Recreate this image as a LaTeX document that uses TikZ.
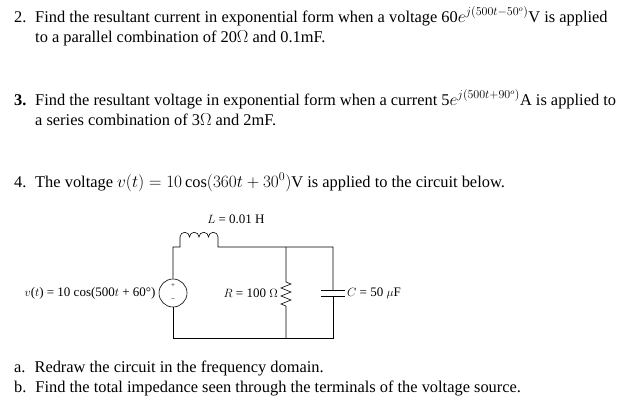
\documentclass[tikz,border=0pt]{standalone}
\usepackage{fontspec}
\setmainfont{Liberation Serif}
\usetikzlibrary{positioning}
\tikzset{>=stealth}

\begin{document}
\begin{tikzpicture}[
        x=1pt, y=1pt,
        txt/.style={
            anchor=base west,
            inner sep=0pt,
            font=\fontsize{16.4}{18}\selectfont,
          },
        lbl/.style={
            inner sep=1pt,
            font=\fontsize{13}{15}\selectfont,
          },
        wire/.style={
            draw,
            line width=0.6pt,
          },
      ]
      \useasboundingbox (0,0) rectangle (628,-416);

      % questions
      \node [txt] (n2) at (14,-22) {2.};
      \node [txt] (q2a) at (35,-22) {Find the resultant current in exponential form when a voltage 60$e^{j(500t-50^o)}$V is applied};
      \node [txt] (q2b) at (35,-42) {to a parallel combination of 20$\Omega$ and 0.1mF.};
      \node [txt] (n3) at (14,-105) {\textbf{3.}};
      \node [txt] (q3a) at (35,-105) {Find the resultant voltage in exponential form when a current 5$e^{j(500t+90^o)}$A is applied to};
      \node [txt] (q3b) at (35,-125) {a series combination of 3$\Omega$ and 2mF.};
      \node [txt] (n4) at (14,-187) {4.};
      \node [txt] (q4) at (35,-187) {The voltage $v(t)=10\cos(360t+30^0)$V is applied to the circuit below.};
      \node [txt] (qa) at (14,-372) {a.\hspace{9pt}Redraw the circuit in the frequency domain.};
      \node [txt] (qb) at (14,-392) {b.\hspace{9pt}Find the total impedance seen through the terminals of the voltage source.};

      % circuit
      \coordinate (tl) at (173,-247);
      \coordinate (bl) at (173,-338);
      \coordinate (la) at (180,-247);
      \coordinate (lb) at (218,-247);
      \coordinate (rt) at (286,-247);
      \coordinate (rb) at (286,-338);
      \coordinate (ct) at (333,-247);
      \coordinate (cb) at (333,-338);
      \node [draw, circle, minimum size=28pt, inner sep=0pt, line width=0.6pt] (src) at (173,-293) {};
      \node [font=\scriptsize, inner sep=0pt] at ([yshift=7pt]src.center) {+};
      \node [font=\scriptsize, inner sep=0pt] at ([yshift=-7pt]src.center) {--};

      \draw [wire] (src.north) -- (tl) -- (la) -- ++(0,10)
        arc (180:0:4.75) arc (180:0:4.75) arc (180:0:4.75) arc (180:0:4.75)
        -- (lb) -- (rt) -- (ct) -- (333,-290);
      \draw [wire] (src.south) -- (bl) -- (rb) -- (cb) -- (333,-296);
      \draw [wire] (rt) -- (286,-282) -- (291,-284) -- (281,-288) -- (291,-292)
        -- (281,-296) -- (291,-300) -- (281,-304) -- (286,-306) -- (rb);
      \draw [line width=1pt] (321,-290) -- (345,-290);
      \draw [line width=1pt] (321,-296) -- (345,-296);

      \node [lbl] (lL) at (236,-219) {$L$ = 0.01 H};
      \node [lbl, left=2pt of src] (lV) {$v$($t$) = 10 cos(500$t$ + 60°)};
      \node [lbl, anchor=east] (lR) at (279,-293) {$R$ = 100 $\Omega$};
      \node [lbl, anchor=west] (lC) at (346,-293) {$C$ = 50 $\mu$F};
    \end{tikzpicture}
\end{document}
